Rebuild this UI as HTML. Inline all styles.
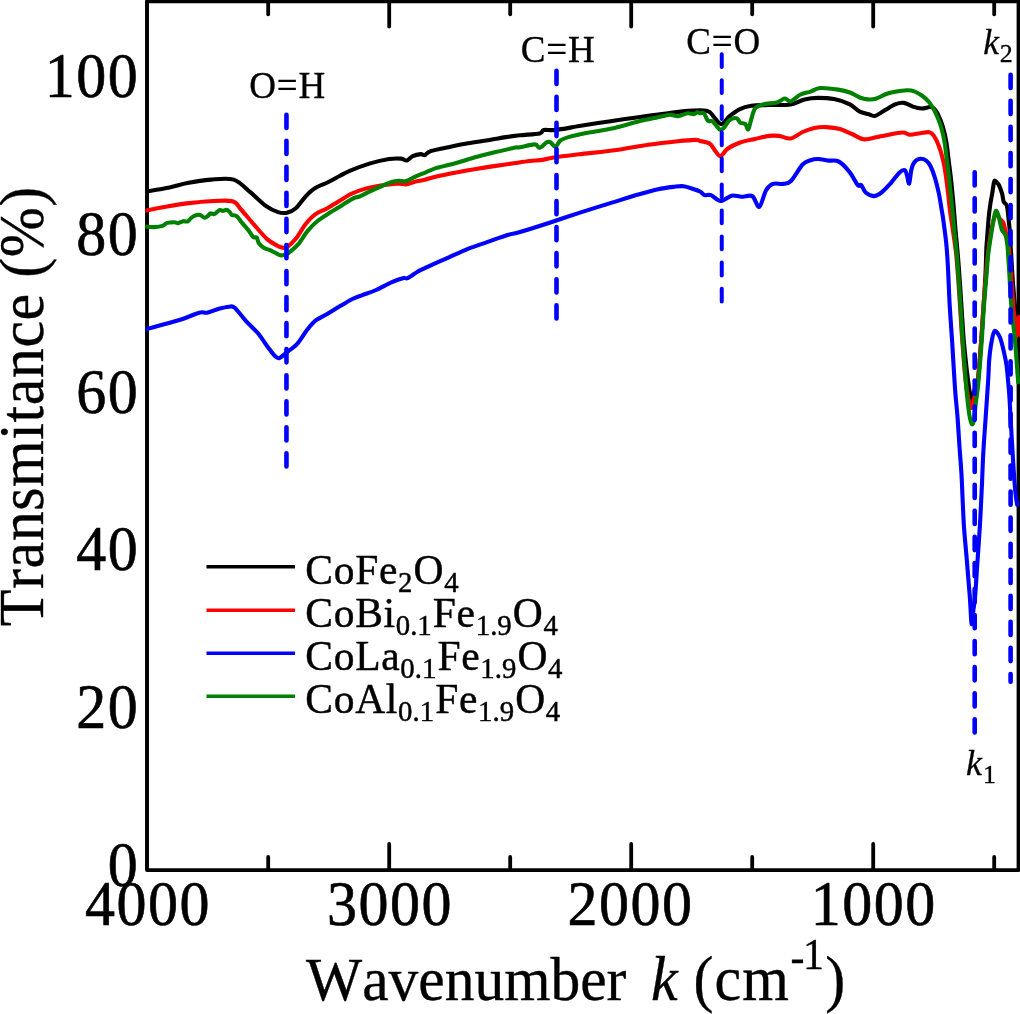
<!DOCTYPE html>
<html lang="en">
<head>
<meta charset="utf-8">
<title>FTIR transmittance spectra</title>
<style>
html,body{margin:0;padding:0;background:#fff;}
body{width:1020px;height:1014px;overflow:hidden;font-family:"Liberation Serif",serif;}
svg{display:block;}
svg text{fill:#000;font-kerning:none;}
</style>
</head>
<body>
<svg width="1020" height="1014" viewBox="0 0 1020 1014">
<defs><clipPath id="plot"><rect x="145.3" y="0" width="874.9" height="871"/></clipPath></defs>
<rect width="1020" height="1014" fill="#fff"/>
<rect x="147.0" y="1.3" width="871.55" height="868.8000000000001" fill="none" stroke="#000" stroke-width="3.9" stroke-linejoin="round"/>
<line x1="994.2" y1="870.1" x2="994.2" y2="857.0" stroke="#000" stroke-width="3.8" stroke-linecap="round"/>
<line x1="994.2" y1="1.3" x2="994.2" y2="14.3" stroke="#000" stroke-width="3.8" stroke-linecap="round"/>
<line x1="873.2" y1="870.1" x2="873.2" y2="844.0" stroke="#000" stroke-width="3.8" stroke-linecap="round"/>
<line x1="873.2" y1="1.3" x2="873.2" y2="26.5" stroke="#000" stroke-width="3.8" stroke-linecap="round"/>
<line x1="752.2" y1="870.1" x2="752.2" y2="857.0" stroke="#000" stroke-width="3.8" stroke-linecap="round"/>
<line x1="752.2" y1="1.3" x2="752.2" y2="14.3" stroke="#000" stroke-width="3.8" stroke-linecap="round"/>
<line x1="631.2" y1="870.1" x2="631.2" y2="844.0" stroke="#000" stroke-width="3.8" stroke-linecap="round"/>
<line x1="631.2" y1="1.3" x2="631.2" y2="26.5" stroke="#000" stroke-width="3.8" stroke-linecap="round"/>
<line x1="510.2" y1="870.1" x2="510.2" y2="857.0" stroke="#000" stroke-width="3.8" stroke-linecap="round"/>
<line x1="510.2" y1="1.3" x2="510.2" y2="14.3" stroke="#000" stroke-width="3.8" stroke-linecap="round"/>
<line x1="389.2" y1="870.1" x2="389.2" y2="844.0" stroke="#000" stroke-width="3.8" stroke-linecap="round"/>
<line x1="389.2" y1="1.3" x2="389.2" y2="26.5" stroke="#000" stroke-width="3.8" stroke-linecap="round"/>
<line x1="268.2" y1="870.1" x2="268.2" y2="857.0" stroke="#000" stroke-width="3.8" stroke-linecap="round"/>
<line x1="268.2" y1="1.3" x2="268.2" y2="14.3" stroke="#000" stroke-width="3.8" stroke-linecap="round"/>
<g clip-path="url(#plot)">
<path d="M146.9 191.4 C150.5 190.8 163.1 188.8 169.6 187.5 C176.1 186.2 180.7 184.4 187.3 183.1 C193.9 181.8 203.6 180.2 211.0 179.6 C218.4 179.0 227.4 177.6 233.7 179.6 C240.0 181.6 245.3 188.1 250.5 192.4 C255.7 196.7 261.8 203.0 266.2 206.2 C270.6 209.4 274.7 211.1 278.0 212.1 C281.3 213.1 284.2 213.3 287.0 212.7 C289.8 212.1 292.8 210.8 295.8 208.2 C298.8 205.6 302.7 199.5 305.7 196.3 C308.7 193.1 311.0 190.7 314.5 188.5 C318.0 186.3 323.3 184.5 327.4 182.5 C331.5 180.5 336.4 177.7 340.0 175.8 C343.6 173.9 345.0 172.9 349.7 170.9 C354.4 168.9 363.1 165.5 369.4 163.6 C375.7 161.7 384.1 159.8 389.2 159.0 C394.3 158.2 398.2 158.4 401.0 158.6 C403.8 158.8 405.0 160.8 406.9 160.4 C408.8 160.0 410.6 157.1 412.8 156.1 C415.0 155.1 418.8 154.3 420.7 154.1 C422.6 153.9 423.1 155.6 424.7 155.1 C426.3 154.6 426.8 152.4 430.6 151.1 C434.4 149.8 442.3 148.4 448.3 147.2 C454.3 146.0 461.7 144.4 468.0 143.3 C474.3 142.2 481.5 141.3 487.8 140.3 C494.1 139.3 502.3 137.7 507.5 136.9 C512.7 136.1 514.8 135.9 520.0 135.3 C525.2 134.7 535.9 134.2 539.7 133.4 C543.5 132.6 541.2 130.5 543.7 130.0 C546.2 129.5 549.8 130.6 555.5 130.0 C561.2 129.4 570.7 127.5 579.2 126.1 C587.7 124.7 599.3 122.9 608.8 121.5 C618.3 120.1 628.8 118.5 638.3 117.2 C647.8 115.9 660.0 114.3 667.9 113.3 C675.8 112.3 681.4 111.3 687.7 110.9 C694.0 110.5 703.3 110.0 707.4 110.9 C711.5 111.8 711.3 114.4 713.5 116.5 C715.7 118.6 718.7 124.1 721.3 124.1 C723.9 124.1 726.7 118.6 729.6 116.2 C732.5 113.8 735.9 111.0 739.4 109.3 C742.9 107.6 746.6 106.5 751.3 105.8 C756.0 105.1 762.7 105.2 769.0 105.0 C775.3 104.8 785.0 105.3 790.7 104.4 C796.4 103.5 800.1 100.4 804.5 99.4 C808.9 98.4 813.6 97.9 818.3 97.9 C823.0 97.9 829.0 98.1 834.1 99.1 C839.2 100.1 845.8 102.4 849.9 104.4 C854.0 106.4 856.6 110.1 859.8 111.7 C863.0 113.3 867.5 114.0 870.0 114.7 C872.5 115.4 872.9 116.6 875.3 115.9 C877.7 115.2 881.6 112.1 884.8 110.3 C888.0 108.5 892.0 105.6 895.1 104.4 C898.2 103.2 901.2 102.5 904.0 102.9 C906.8 103.3 910.1 105.7 912.9 106.6 C915.7 107.5 919.1 108.4 921.8 108.5 C924.5 108.6 927.9 107.0 929.9 107.0 C931.9 107.0 932.8 107.5 934.0 108.5 C935.2 109.5 936.1 110.6 937.5 113.5 C938.9 116.4 941.4 121.9 942.8 126.6 C944.2 131.3 945.6 137.4 946.5 142.8 C947.4 148.2 947.9 154.5 948.7 160.6 C949.5 166.7 950.4 173.5 951.2 181.0 C952.0 188.5 953.0 199.3 953.7 207.3 C954.4 215.3 954.9 223.4 955.6 231.0 C956.3 238.6 957.1 246.9 957.8 254.7 C958.5 262.5 959.1 271.9 959.7 280.0 C960.3 288.1 960.7 295.7 961.4 305.5 C962.1 315.3 962.9 330.4 963.8 341.0 C964.7 351.6 966.2 364.8 967.0 372.0 C967.8 379.2 968.3 382.2 968.8 386.0 C969.3 389.8 969.9 393.6 970.3 396.0 C970.7 398.4 971.0 401.0 971.4 401.0 C971.8 401.0 972.2 398.1 972.8 396.0 C973.4 393.9 974.2 390.6 975.0 388.0 C975.8 385.4 976.9 387.5 977.9 380.0 C978.9 372.5 980.3 352.2 981.2 341.0 C982.1 329.8 982.6 320.4 983.3 310.0 C984.0 299.6 984.9 285.6 985.4 276.0 C985.9 266.4 986.1 255.6 986.3 250.0 C986.5 244.4 986.5 246.2 986.9 241.0 C987.3 235.8 988.1 223.5 988.7 217.4 C989.3 211.3 989.9 206.8 990.5 203.0 C991.1 199.2 991.6 197.1 992.2 193.7 C992.8 190.3 993.5 183.4 994.2 181.5 C994.9 179.6 995.7 181.4 996.5 182.0 C997.3 182.6 998.0 183.1 998.9 185.0 C999.8 186.9 1001.3 191.0 1002.1 193.7 C1002.9 196.4 1002.9 199.7 1003.7 201.6 C1004.5 203.5 1006.1 203.6 1006.8 205.5 C1007.5 207.4 1007.7 210.9 1008.0 213.4 C1008.3 215.9 1008.5 218.8 1008.8 221.3 C1009.1 223.8 1009.4 226.2 1009.6 229.2 C1009.8 232.2 1009.9 235.9 1010.2 240.0 C1010.5 244.1 1010.8 249.4 1011.2 255.0 C1011.6 260.6 1012.0 268.9 1012.4 275.0 C1012.8 281.1 1013.3 287.4 1013.8 293.0 C1014.3 298.6 1014.8 304.9 1015.3 310.0 C1015.8 315.1 1016.5 321.0 1017.0 325.0 C1017.5 329.0 1018.3 333.4 1018.5 335.0" fill="none" stroke="#000" stroke-width="4.1" stroke-linejoin="round" stroke-linecap="round"/>
<path d="M146.5 210.4 C149.8 209.8 160.3 207.7 167.1 206.5 C173.9 205.3 182.3 203.9 189.1 203.1 C195.9 202.3 202.8 201.5 209.7 201.2 C216.6 200.9 227.6 200.0 232.5 201.2 C237.4 202.4 237.2 205.3 240.6 209.0 C244.0 212.7 249.6 219.6 253.8 224.4 C258.0 229.2 263.3 235.7 267.1 239.1 C270.9 242.5 274.9 244.3 277.4 245.7 C279.9 247.1 281.0 247.4 282.5 247.6 C284.0 247.8 284.8 248.6 286.9 247.2 C289.0 245.8 292.8 242.5 295.8 238.8 C298.8 235.1 302.5 228.0 305.7 224.0 C308.9 220.0 312.0 216.6 315.5 214.1 C319.0 211.6 323.2 210.5 327.4 208.2 C331.6 205.9 337.9 201.8 341.8 199.5 C345.7 197.2 347.9 195.3 351.7 193.6 C355.5 191.9 361.1 189.9 365.5 188.6 C369.9 187.3 374.3 186.5 379.3 185.7 C384.3 184.9 392.6 183.9 397.0 183.7 C401.4 183.5 404.1 184.6 406.9 184.3 C409.7 184.0 412.0 182.4 414.8 181.7 C417.6 181.0 421.2 180.5 424.7 179.7 C428.2 178.9 431.5 177.6 436.5 176.4 C441.5 175.2 449.9 173.6 456.2 172.4 C462.5 171.2 469.7 169.9 476.0 168.9 C482.3 167.9 489.4 166.8 495.7 165.9 C502.0 165.0 509.9 163.8 515.4 163.0 C520.9 162.2 525.5 161.5 530.0 161.0 C534.5 160.5 539.6 160.2 543.7 159.6 C547.8 159.0 549.8 158.0 555.5 157.2 C561.2 156.4 569.1 155.5 579.2 154.3 C589.3 153.1 607.6 151.2 618.6 149.7 C629.6 148.2 638.7 146.1 648.2 144.8 C657.7 143.5 670.2 142.1 677.8 141.3 C685.4 140.5 691.9 140.0 695.5 139.9 C699.1 139.8 697.7 140.3 700.0 140.9 C702.3 141.5 707.4 142.1 709.9 143.8 C712.4 145.5 714.1 149.7 715.8 151.7 C717.5 153.7 718.8 156.7 720.7 156.2 C722.6 155.7 724.6 150.9 727.6 148.8 C730.6 146.7 735.0 144.4 739.4 142.8 C743.8 141.2 750.5 140.0 755.2 138.9 C759.9 137.8 765.2 136.4 769.0 135.9 C772.8 135.4 775.4 135.5 778.9 135.9 C782.4 136.3 786.9 139.1 790.7 138.5 C794.5 137.9 798.8 133.7 802.6 132.0 C806.4 130.3 810.6 128.8 814.4 128.0 C818.2 127.2 822.1 126.9 826.2 127.1 C830.3 127.3 835.9 127.9 840.0 129.0 C844.1 130.1 848.1 132.4 851.9 134.0 C855.7 135.6 859.6 138.8 863.7 139.3 C867.8 139.8 874.1 137.5 877.5 136.9 C880.9 136.3 880.8 136.1 884.8 135.4 C888.8 134.7 898.5 132.6 902.5 132.5 C906.5 132.4 907.1 134.6 909.9 134.7 C912.7 134.8 917.2 133.6 920.3 133.2 C923.4 132.8 927.1 131.8 929.2 132.2 C931.3 132.6 932.1 133.2 933.6 135.4 C935.1 137.6 937.3 141.8 938.8 145.8 C940.3 149.8 942.0 155.4 943.2 160.6 C944.4 165.8 945.4 172.6 946.2 178.3 C947.0 184.0 947.8 191.0 948.4 196.1 C949.0 201.2 949.2 204.4 949.9 210.0 C950.6 215.6 952.0 223.8 953.0 231.0 C954.0 238.2 955.4 246.9 956.2 254.7 C957.0 262.5 957.7 271.9 958.3 280.0 C958.9 288.1 959.4 295.7 960.0 305.5 C960.6 315.3 961.4 329.1 962.3 341.0 C963.2 352.9 964.5 370.6 965.5 380.0 C966.5 389.4 967.6 395.5 968.6 400.0 C969.6 404.5 970.7 408.3 971.6 408.0 C972.5 407.7 973.3 401.7 974.2 398.0 C975.1 394.3 976.4 394.1 977.5 385.0 C978.6 375.9 980.2 353.7 981.2 341.0 C982.2 328.3 982.7 316.1 983.5 305.5 C984.3 294.9 985.3 283.1 986.0 275.0 C986.7 266.9 986.9 261.7 987.7 254.7 C988.5 247.7 990.2 236.9 991.2 231.0 C992.2 225.1 993.4 220.8 994.2 218.0 C995.0 215.2 995.5 213.3 996.4 213.5 C997.3 213.7 998.9 217.6 1000.0 219.0 C1001.1 220.4 1002.3 220.6 1003.2 222.5 C1004.1 224.4 1004.8 228.2 1005.5 231.0 C1006.2 233.8 1006.9 237.0 1007.5 240.0 C1008.1 243.0 1008.5 246.0 1009.0 250.0 C1009.5 254.0 1010.1 260.5 1010.5 265.0 C1010.9 269.5 1011.0 273.2 1011.3 278.0 C1011.6 282.8 1012.2 289.9 1012.6 295.0 C1013.0 300.1 1013.2 305.2 1013.6 310.0 C1014.0 314.8 1014.8 320.8 1015.2 325.0 C1015.6 329.2 1016.0 335.7 1016.4 336.0 C1016.8 336.3 1017.0 330.0 1017.4 327.0 C1017.8 324.0 1018.2 317.5 1018.6 317.0 C1019.0 316.5 1019.3 321.1 1019.6 324.0 C1019.9 326.9 1020.1 333.2 1020.2 335.0" fill="none" stroke="#f00" stroke-width="4.1" stroke-linejoin="round" stroke-linecap="round"/>
<path d="M146.9 329.1 C152.1 327.6 171.0 322.6 179.4 320.0 C187.8 317.4 194.8 313.9 199.2 312.7 C203.6 311.5 203.8 313.3 207.0 312.7 C210.2 312.1 215.4 309.7 218.9 308.8 C222.4 307.9 226.3 307.0 228.8 306.8 C231.3 306.6 231.9 305.4 234.7 307.8 C237.5 310.2 242.8 317.6 246.5 321.6 C250.2 325.6 254.4 329.0 257.8 333.0 C261.2 337.0 264.8 343.0 267.6 346.8 C270.4 350.6 273.6 354.8 275.5 356.6 C277.4 358.4 277.7 358.6 279.4 358.0 C281.1 357.4 283.6 355.0 286.4 352.7 C289.2 350.4 293.9 347.4 297.2 343.8 C300.5 340.2 304.0 333.8 307.0 330.0 C310.0 326.2 312.8 322.7 316.0 320.2 C319.2 317.7 322.9 316.5 326.8 314.2 C330.7 311.9 336.5 308.2 340.6 305.8 C344.7 303.4 348.9 300.7 352.4 299.0 C355.9 297.3 358.5 296.5 362.3 295.1 C366.1 293.7 371.4 292.1 376.1 290.0 C380.8 287.9 387.5 284.0 391.9 282.1 C396.3 280.2 401.2 278.7 403.7 278.1 C406.2 277.5 405.5 279.1 407.7 278.1 C409.9 277.1 414.7 273.4 417.5 271.8 C420.3 270.2 422.7 269.2 425.4 267.9 C428.1 266.6 430.8 265.2 434.5 263.6 C438.2 262.0 442.9 260.1 448.3 257.7 C453.7 255.3 461.7 251.3 468.0 248.8 C474.3 246.3 481.5 244.1 487.8 241.9 C494.1 239.7 502.3 236.6 507.5 235.0 C512.7 233.4 513.3 234.0 520.0 232.0 C526.7 230.0 540.1 225.8 549.6 222.7 C559.1 219.6 569.7 216.0 579.2 212.9 C588.7 209.8 599.3 206.5 608.8 203.6 C618.3 200.7 630.4 196.8 638.3 194.5 C646.2 192.2 652.4 190.4 658.1 189.2 C663.8 188.0 669.7 187.3 673.8 186.8 C677.9 186.3 680.5 185.8 683.7 186.2 C686.9 186.6 691.0 188.4 693.6 189.2 C696.2 190.0 698.2 190.6 700.0 191.5 C701.8 192.4 702.8 194.5 704.6 195.1 C706.4 195.7 708.4 194.2 711.0 195.1 C713.6 196.0 717.4 200.9 720.7 201.0 C724.0 201.1 728.3 196.4 731.6 195.7 C734.9 195.0 738.1 196.6 741.4 196.7 C744.7 196.8 749.5 194.5 752.3 196.1 C755.1 197.7 757.0 207.8 759.2 206.9 C761.4 206.0 763.9 193.9 766.1 190.2 C768.3 186.5 770.3 184.9 773.0 183.9 C775.7 182.9 780.0 184.3 782.8 183.9 C785.6 183.5 787.5 184.4 790.7 181.3 C793.9 178.2 799.4 167.9 802.6 164.5 C805.8 161.1 808.0 161.1 810.5 160.2 C813.0 159.3 815.5 158.9 818.3 159.0 C821.1 159.1 824.9 160.2 828.2 160.6 C831.5 161.0 835.5 159.7 839.0 161.6 C842.5 163.5 846.9 168.6 849.9 172.4 C852.9 176.2 856.0 183.2 857.8 185.2 C859.6 187.2 860.0 184.0 861.3 185.2 C862.6 186.4 863.7 190.8 865.7 192.5 C867.7 194.2 871.1 196.1 873.6 196.1 C876.1 196.1 878.7 194.6 881.5 192.5 C884.3 190.4 888.0 186.2 890.9 183.0 C893.8 179.8 897.4 174.4 899.6 172.4 C901.8 170.4 903.6 169.7 904.8 170.2 C906.0 170.7 906.3 173.3 907.0 175.4 C907.7 177.5 908.5 184.4 909.2 183.5 C909.9 182.6 910.6 172.9 911.4 169.5 C912.2 166.1 913.0 163.8 914.4 162.1 C915.8 160.4 918.4 159.0 920.3 158.8 C922.2 158.6 924.5 159.4 926.2 160.6 C927.9 161.8 929.3 163.7 930.7 166.5 C932.1 169.3 933.8 174.0 935.1 178.3 C936.4 182.6 937.7 188.0 938.8 193.1 C939.9 198.2 941.0 205.8 941.7 210.0 C942.4 214.2 942.5 214.0 943.2 219.2 C943.9 224.4 945.4 235.2 946.2 242.8 C947.0 250.4 947.3 256.5 947.9 266.5 C948.5 276.5 949.0 293.6 949.7 305.5 C950.4 317.4 951.3 327.8 952.1 341.0 C952.9 354.2 954.2 376.4 955.0 388.3 C955.8 400.2 956.6 405.5 957.4 415.5 C958.2 425.5 959.1 441.5 959.8 451.0 C960.5 460.5 960.8 462.8 961.5 474.7 C962.2 486.6 963.0 511.7 963.9 525.5 C964.8 539.3 966.0 549.6 966.9 561.0 C967.8 572.4 969.0 586.4 969.8 596.5 C970.6 606.6 971.0 621.8 971.6 624.0 C972.2 626.2 972.8 614.4 973.4 610.0 C974.0 605.6 974.4 604.3 975.1 596.5 C975.8 588.7 976.7 572.4 977.5 561.0 C978.3 549.6 979.2 536.9 979.9 525.5 C980.6 514.1 981.1 501.9 981.7 490.0 C982.3 478.1 982.7 462.9 983.4 451.0 C984.1 439.1 985.0 426.9 985.8 415.5 C986.6 404.1 987.6 389.1 988.2 380.0 C988.8 370.9 988.7 365.0 989.3 358.8 C989.9 352.6 990.8 345.5 991.7 341.0 C992.6 336.5 993.4 331.5 994.7 330.9 C996.0 330.3 998.5 334.0 1000.0 337.5 C1001.5 341.0 1003.1 348.4 1004.1 352.8 C1005.1 357.2 1005.9 360.6 1006.5 365.0 C1007.1 369.4 1007.5 374.7 1008.0 380.0 C1008.5 385.3 1008.9 388.5 1009.5 398.0 C1010.1 407.5 1011.1 427.9 1011.8 439.2 C1012.5 450.5 1013.0 460.3 1013.6 468.8 C1014.2 477.3 1014.8 486.6 1015.4 492.4 C1016.0 498.2 1016.9 503.0 1017.2 505.0" fill="none" stroke="#00f" stroke-width="4.1" stroke-linejoin="round" stroke-linecap="round"/>
<path d="M146.5 226.6 C147.7 226.7 151.2 227.2 153.8 227.1 C156.4 227.0 160.5 226.6 162.6 225.9 C164.7 225.2 165.2 223.5 167.1 222.9 C169.0 222.3 172.6 222.2 174.4 222.2 C176.2 222.2 176.7 223.4 178.1 223.2 C179.5 223.0 181.7 221.5 183.2 221.2 C184.7 220.9 186.4 221.9 187.6 221.5 C188.8 221.1 189.5 219.4 190.6 218.5 C191.7 217.6 192.8 216.5 194.3 215.9 C195.8 215.3 198.5 214.6 200.1 214.9 C201.7 215.2 203.3 217.7 204.6 217.8 C205.9 217.9 207.3 216.3 208.2 215.6 C209.1 214.9 209.5 213.6 210.4 213.4 C211.3 213.2 213.0 214.3 214.1 214.1 C215.2 213.9 216.2 212.6 217.1 211.9 C218.0 211.2 219.1 210.2 220.0 210.0 C220.9 209.8 221.8 210.9 222.9 210.9 C224.0 210.9 225.5 209.5 226.6 209.7 C227.7 209.9 228.8 211.1 229.6 211.9 C230.4 212.7 230.6 214.2 231.8 214.9 C233.0 215.6 235.3 215.0 236.9 216.3 C238.5 217.6 240.3 220.8 242.1 222.9 C243.9 225.0 246.1 227.4 247.9 229.6 C249.7 231.8 251.7 235.6 253.1 236.9 C254.5 238.2 255.9 236.5 256.8 237.6 C257.7 238.7 257.8 241.9 259.0 243.5 C260.2 245.1 262.3 246.8 264.1 247.9 C265.9 249.0 268.4 249.4 270.0 250.1 C271.6 250.8 272.8 251.6 274.4 252.4 C276.0 253.2 278.7 254.9 280.3 255.3 C281.9 255.7 283.4 255.0 284.7 254.6 C286.0 254.2 286.3 254.7 288.4 253.1 C290.5 251.5 294.7 248.3 297.8 244.7 C300.9 241.1 304.5 234.7 307.7 230.9 C310.9 227.1 314.0 223.8 317.5 221.0 C321.0 218.2 325.4 215.6 329.3 213.1 C333.2 210.6 337.9 207.8 341.8 205.4 C345.7 203.0 350.9 199.5 353.7 198.1 C356.5 196.7 357.1 197.5 359.6 196.5 C362.1 195.5 365.9 193.2 369.4 191.6 C372.9 190.0 377.8 187.8 381.3 186.3 C384.8 184.8 388.3 183.0 391.1 182.1 C393.9 181.2 396.6 180.9 399.0 180.7 C401.4 180.5 403.4 181.7 405.9 181.1 C408.4 180.5 411.8 178.1 414.8 176.8 C417.8 175.5 421.2 174.2 424.7 172.8 C428.2 171.4 431.5 169.5 436.5 167.9 C441.5 166.3 449.9 164.7 456.2 163.0 C462.5 161.3 469.7 158.8 476.0 157.1 C482.3 155.4 489.4 153.6 495.7 152.1 C502.0 150.6 511.5 148.4 515.4 147.6 C519.3 146.8 516.9 147.8 520.0 147.3 C523.1 146.8 531.6 144.3 534.8 144.4 C538.0 144.5 537.8 148.1 539.7 147.8 C541.6 147.5 544.9 143.3 546.6 142.4 C548.3 141.5 549.2 141.7 550.6 142.4 C552.0 143.1 553.9 147.1 555.5 146.8 C557.1 146.5 558.2 142.1 560.4 140.5 C562.6 138.9 564.7 138.2 569.3 136.9 C573.9 135.6 581.7 134.0 589.0 132.6 C596.3 131.2 606.8 129.8 614.7 128.0 C622.6 126.2 631.4 123.2 638.3 121.5 C645.2 119.8 653.0 118.3 658.1 117.2 C663.2 116.1 666.7 115.0 669.9 114.8 C673.1 114.6 675.0 116.4 677.8 116.2 C680.6 116.0 685.2 113.6 687.7 113.3 C690.2 113.0 692.0 114.4 693.6 114.2 C695.2 114.0 696.5 112.4 697.5 112.3 C698.5 112.2 699.0 113.1 700.0 113.3 C701.0 113.5 702.6 112.1 703.9 113.3 C705.2 114.5 706.5 119.4 707.9 120.7 C709.3 122.0 710.9 120.1 712.8 121.5 C714.7 122.9 718.0 128.4 719.7 129.4 C721.4 130.4 722.1 129.5 723.7 128.0 C725.3 126.5 727.6 121.8 729.6 120.2 C731.6 118.6 734.8 117.8 736.5 118.2 C738.2 118.6 739.0 121.8 740.4 122.7 C741.8 123.6 744.1 123.0 745.4 124.1 C746.7 125.2 747.4 130.2 748.3 129.4 C749.2 128.6 750.2 122.6 751.3 119.2 C752.4 115.8 753.3 110.7 755.2 108.3 C757.1 105.9 759.6 105.3 763.1 104.4 C766.6 103.5 773.4 103.3 776.9 102.4 C780.4 101.5 782.6 98.7 784.8 98.5 C787.0 98.3 788.2 102.0 790.7 101.4 C793.2 100.8 797.4 96.1 800.6 94.5 C803.8 92.9 807.3 92.6 810.5 91.6 C813.7 90.6 815.9 88.3 820.3 88.0 C824.7 87.7 833.4 88.9 838.1 89.6 C842.8 90.3 846.4 91.2 849.9 92.5 C853.4 93.8 857.0 96.4 859.8 97.5 C862.6 98.6 865.2 99.2 867.7 99.4 C870.2 99.6 872.7 99.7 875.7 98.8 C878.7 97.9 883.2 95.1 886.3 94.0 C889.4 92.9 891.8 92.4 895.1 91.8 C898.4 91.2 903.9 90.4 907.0 90.3 C910.1 90.2 912.0 90.6 914.4 91.4 C916.8 92.2 919.4 93.8 921.8 95.5 C924.2 97.2 927.1 99.6 929.2 102.2 C931.3 104.8 933.2 107.9 935.1 111.8 C937.0 115.7 939.5 121.6 941.0 126.6 C942.5 131.6 943.8 137.4 944.7 142.8 C945.6 148.2 946.1 154.5 946.9 160.6 C947.7 166.7 948.6 173.5 949.4 181.0 C950.2 188.5 951.3 199.3 952.1 207.3 C952.9 215.3 953.6 223.4 954.4 231.0 C955.2 238.6 956.1 246.9 956.8 254.7 C957.5 262.5 958.1 271.9 958.7 280.0 C959.3 288.1 959.8 295.7 960.4 305.5 C961.0 315.3 961.9 329.1 962.7 341.0 C963.5 352.9 964.8 369.0 965.7 380.0 C966.6 391.0 967.7 402.6 968.6 409.6 C969.5 416.6 970.7 422.1 971.6 423.8 C972.5 425.5 973.3 423.2 974.0 420.0 C974.7 416.8 975.0 409.3 975.7 403.7 C976.4 398.1 977.1 395.0 978.1 385.0 C979.1 375.0 980.8 353.7 981.7 341.0 C982.6 328.3 983.2 316.1 984.0 305.5 C984.8 294.9 985.8 283.1 986.5 275.0 C987.2 266.9 987.4 261.7 988.2 254.7 C989.0 247.7 990.7 237.4 991.7 231.0 C992.7 224.6 993.9 217.6 994.7 214.4 C995.5 211.2 995.7 210.5 996.4 210.9 C997.1 211.3 997.9 213.8 998.8 216.8 C999.7 219.8 1000.8 227.0 1001.8 229.8 C1002.8 232.6 1004.4 232.2 1005.3 234.6 C1006.2 237.0 1006.9 240.6 1007.4 245.0 C1007.9 249.4 1008.2 256.7 1008.6 262.0 C1009.0 267.3 1009.2 271.0 1009.6 278.0 C1010.0 285.0 1010.4 295.4 1011.3 305.5 C1012.2 315.6 1013.9 328.7 1015.0 341.0 C1016.1 353.3 1017.7 375.8 1018.2 382.4" fill="none" stroke="#008000" stroke-width="4.1" stroke-linejoin="round" stroke-linecap="round"/>
</g>
<line x1="286.45" y1="114.70" x2="286.45" y2="466.70" stroke="#00f" stroke-width="4.6" stroke-linecap="round" stroke-dasharray="13.20 12.85"/>
<line x1="556.5" y1="70.80" x2="556.5" y2="318.70" stroke="#00f" stroke-width="4.6" stroke-linecap="round" stroke-dasharray="13.20 12.85"/>
<line x1="721.75" y1="54.20" x2="721.75" y2="301.40" stroke="#00f" stroke-width="4.0" stroke-linecap="round" stroke-dasharray="12.80 13.25"/>
<line x1="974.7" y1="172.20" x2="974.7" y2="732.70" stroke="#00f" stroke-width="4.6" stroke-linecap="round" stroke-dasharray="13.20 12.85"/>
<line x1="1010.6" y1="74.80" x2="1010.6" y2="681.70" stroke="#00f" stroke-width="4.6" stroke-linecap="round" stroke-dasharray="13.20 12.85"/>
<g stroke="#000" stroke-width="0.6" stroke-linejoin="round">
<text transform="translate(139.2,97.1) scale(1,1.04)" font-family="Liberation Serif, serif" font-size="60" letter-spacing="1.5" text-anchor="end">100</text>
<text transform="translate(139.2,254.8) scale(1,1.04)" font-family="Liberation Serif, serif" font-size="60" letter-spacing="1.5" text-anchor="end">80</text>
<text transform="translate(139.2,412.5) scale(1,1.04)" font-family="Liberation Serif, serif" font-size="60" letter-spacing="1.5" text-anchor="end">60</text>
<text transform="translate(139.2,570.2) scale(1,1.04)" font-family="Liberation Serif, serif" font-size="60" letter-spacing="1.5" text-anchor="end">40</text>
<text transform="translate(139.2,727.9) scale(1,1.04)" font-family="Liberation Serif, serif" font-size="60" letter-spacing="1.5" text-anchor="end">20</text>
<text transform="translate(139.2,885.6) scale(1,1.04)" font-family="Liberation Serif, serif" font-size="60" letter-spacing="1.5" text-anchor="end">0</text>
<text transform="translate(148.1,925.4) scale(1,1.04)" font-family="Liberation Serif, serif" font-size="60" letter-spacing="1.5" text-anchor="middle">4000</text>
<text transform="translate(390.1,925.4) scale(1,1.04)" font-family="Liberation Serif, serif" font-size="60" letter-spacing="1.5" text-anchor="middle">3000</text>
<text transform="translate(630.5,925.4) scale(1,1.04)" font-family="Liberation Serif, serif" font-size="60" letter-spacing="1.5" text-anchor="middle">2000</text>
<text transform="translate(873.7,925.4) scale(1,1.04)" font-family="Liberation Serif, serif" font-size="60" letter-spacing="1.5" text-anchor="middle">1000</text>
<text transform="translate(43.2,406.2) rotate(-90) scale(1,1.045)" font-family="Liberation Serif, serif" font-size="60" letter-spacing="0.53" text-anchor="middle" stroke-width="0.35">Transmitance (%)</text>
<text transform="translate(306,999.6) scale(1,1.045)" font-family="Liberation Serif, serif" font-size="59.5" stroke-width="0.35">Wavenumber <tspan font-style="italic" font-size="60" dx="9.6">k</tspan> <tspan font-size="60" letter-spacing="1.1" dx="1">(cm</tspan><tspan font-size="42" dy="-26.6" dx="0.6">-</tspan><tspan font-size="42" dy="-2.9" dx="-1.6">1</tspan><tspan font-size="60" dy="29.5" dx="1.2">)</tspan></text>
<text x="249.3" y="97.6" font-family="Liberation Serif, serif" font-size="37" letter-spacing="0.8" stroke-width="0.3">O=H</text>
<text x="520.8" y="62.4" font-family="Liberation Serif, serif" font-size="37" letter-spacing="0.8" stroke-width="0.3">C=H</text>
<text x="686.3" y="54.1" font-family="Liberation Serif, serif" font-size="37" letter-spacing="0.8" stroke-width="0.3">C=O</text>
<text x="983.2" y="54" font-family="Liberation Serif, serif" font-size="35.5" stroke-width="0.3"><tspan font-style="italic">k</tspan><tspan font-size="26" dy="7.8" dx="0.8">2</tspan></text>
<text x="966" y="774.6" font-family="Liberation Serif, serif" font-size="36" stroke-width="0.3"><tspan font-style="italic">k</tspan><tspan font-size="26" dy="8.4" dx="1">1</tspan></text>
<text x="305.3" y="583.5" font-family="Liberation Serif, serif" font-size="41.5" letter-spacing="0.7" stroke-width="0.45">CoFe<tspan font-size="28.8" dy="8.3" letter-spacing="0">2</tspan><tspan dy="-8.3" dx="1.1">O</tspan><tspan font-size="28.8" dy="8.3" letter-spacing="0">4</tspan></text>
<text x="305.3" y="627.1" font-family="Liberation Serif, serif" font-size="41.5" letter-spacing="0.7" stroke-width="0.45">CoBi<tspan font-size="28.8" dy="8.3" letter-spacing="0">0.1</tspan><tspan dy="-8.3" dx="1.1">Fe</tspan><tspan font-size="28.8" dy="8.3" letter-spacing="0">1.9</tspan><tspan dy="-8.3" dx="1.1">O</tspan><tspan font-size="28.8" dy="8.3" letter-spacing="0">4</tspan></text>
<text x="305.3" y="670.0" font-family="Liberation Serif, serif" font-size="41.5" letter-spacing="0.7" stroke-width="0.45">CoLa<tspan font-size="28.8" dy="8.3" letter-spacing="0">0.1</tspan><tspan dy="-8.3" dx="1.1">Fe</tspan><tspan font-size="28.8" dy="8.3" letter-spacing="0">1.9</tspan><tspan dy="-8.3" dx="1.1">O</tspan><tspan font-size="28.8" dy="8.3" letter-spacing="0">4</tspan></text>
<text x="305.3" y="713.0" font-family="Liberation Serif, serif" font-size="41.5" letter-spacing="0.7" stroke-width="0.45">CoAl<tspan font-size="28.8" dy="8.3" letter-spacing="0">0.1</tspan><tspan dy="-8.3" dx="1.1">Fe</tspan><tspan font-size="28.8" dy="8.3" letter-spacing="0">1.9</tspan><tspan dy="-8.3" dx="1.1">O</tspan><tspan font-size="28.8" dy="8.3" letter-spacing="0">4</tspan></text>
</g>
<line x1="206.5" y1="566.7" x2="295" y2="566.7" stroke="#000" stroke-width="3.4"/>
<line x1="206.5" y1="610.3" x2="295" y2="610.3" stroke="#f00" stroke-width="3.4"/>
<line x1="206.5" y1="653.2" x2="295" y2="653.2" stroke="#00f" stroke-width="3.4"/>
<line x1="206.5" y1="696.2" x2="295" y2="696.2" stroke="#008000" stroke-width="3.4"/>
</svg>
</body>
</html>
